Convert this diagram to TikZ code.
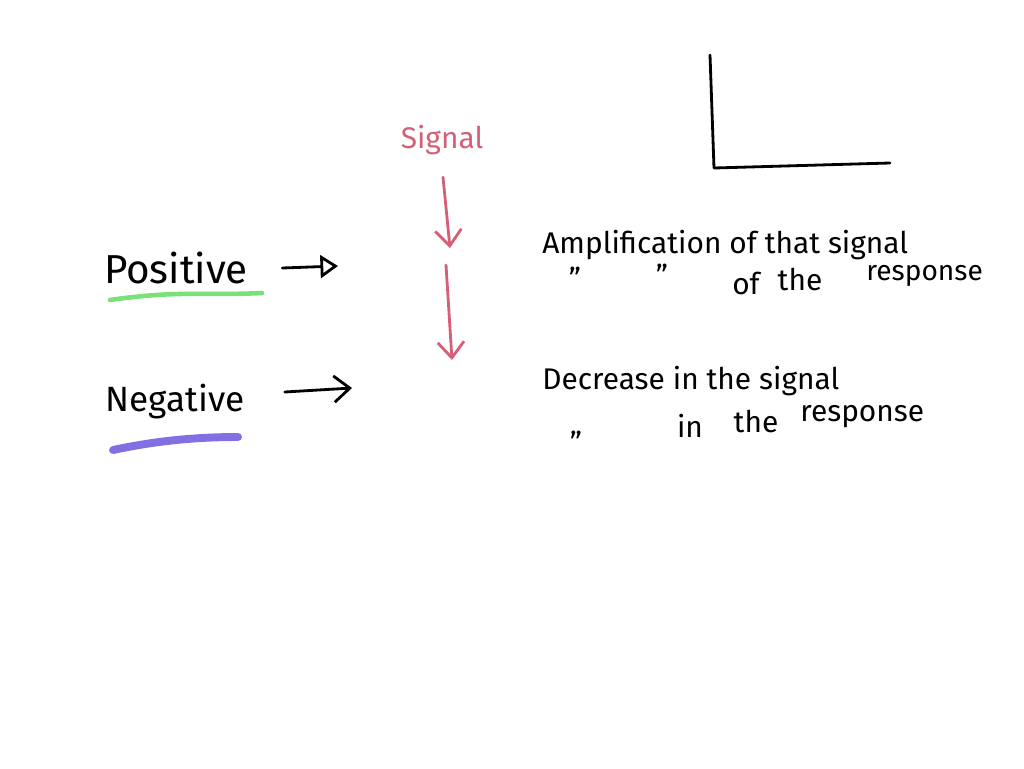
\documentclass[tikz,border=0pt]{standalone}
\usepackage{fontspec}
\setmainfont{Fira Sans}
\usetikzlibrary{arrows.meta}
\definecolor{signalpink}{RGB}{212,96,120}
\definecolor{posgreen}{RGB}{120,226,120}
\definecolor{negpurple}{RGB}{128,112,226}
\tikzset{
  hand/.style={line width=1.6pt,line cap=round,line join=round},
  word/.style={inner sep=0pt,font=\fontsize{17}{20}\selectfont},
  big/.style={inner sep=0pt,font=\fontsize{23}{26}\selectfont},
  barb/.style={-{Straight Barb[length=9pt,width=15pt]}}
}
\begin{document}
\begin{tikzpicture}[x=0.02cm,y=-0.02cm]
  \useasboundingbox (0,0) rectangle (1024,768);
  % axes in the corner
  \draw [hand] (710,55) -- (714,168) -- (890,163);
  % signal and its arrows
  \node [word,text=signalpink] (signal) at (442,140) {Signal};
  \coordinate (s1) at (450,248);
  \coordinate (s2a) at (446,265);
  \coordinate (s2) at (452,360);
  \draw [hand,barb,signalpink] (signal.south)++(1,22) -- (s1);
  \draw [hand,barb,signalpink] (s2a) -- (s2);
  % positive / negative
  \node [big] (pos) at (176,268) {Positive};
  \node [big,font=\fontsize{20}{24}\selectfont] (neg) at (175,402) {Negative};
  \draw [line width=2.6pt,line cap=round,posgreen] (110,300) .. controls (180,290) and (200,296) .. (262,293);
  \draw [line width=4.5pt,line cap=round,negpurple] (113,450) .. controls (160,440) and (200,437) .. (238,437);
  \coordinate (p1) at (338,266);
  \coordinate (n1) at (352,388);
  \draw [hand,-{Triangle[open,length=10pt,width=13pt]}] (pos.east)++(34,0) -- (p1);
  \draw [hand,barb] (neg.east)++(40,-10) -- (n1);
  % meanings
  \node [word,anchor=west] (amp) at (542,245) {Amplification of that signal};
  \node [word] (q1) at (575,278) {"};
  \node [word] (q2) at (662,275) {"};
  \node [word] (of) at (746,283) {of};
  \node [word] (the1) at (800,280) {the};
  \node [word,anchor=west,font=\fontsize{16}{20}\selectfont] (resp1) at (866,276) {response};
  \node [word,anchor=west] (dec) at (542,381) {Decrease in the signal};
  \node [word] (q3) at (576,442) {"};
  \node [word] (in) at (690,426) {in};
  \node [word] (the2) at (756,421) {the};
  \node [word,anchor=west] (resp2) at (800,417) {response};
\end{tikzpicture}
\end{document}
